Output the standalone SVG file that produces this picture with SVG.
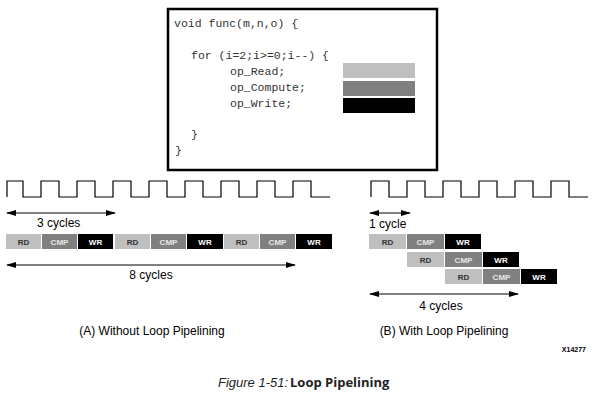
<svg xmlns="http://www.w3.org/2000/svg" width="600" height="401" viewBox="0 0 600 401">
<style>
.code{font-family:"Liberation Mono",monospace;font-size:11.5px;fill:#333}
.wave{fill:none;stroke:#000;stroke-width:1.2}
.lbl{font-family:"Liberation Sans",Arial,sans-serif;font-size:12px;fill:#000}
.bt{font-family:"Liberation Sans",Arial,sans-serif;font-size:8px;font-weight:bold;text-anchor:middle}
.rd{fill:#bfbfbf}.cmp{fill:#808080}.wr{fill:#000}
.trd{fill:#333}.tcmp{fill:#e8e8e8}.twr{fill:#fff}
.arr{stroke:#000;stroke-width:1;marker-start:url(#a);marker-end:url(#a)}
</style>
<defs>
<marker id="a" viewBox="0 0 10 6" refX="9" refY="3" markerWidth="10" markerHeight="6" orient="auto-start-reverse" markerUnits="userSpaceOnUse"><path d="M0,0L10,3L0,6z" fill="#000"/></marker>
</defs>
<rect width="600" height="401" fill="#fff"/>
<g id="code">
<rect x="168" y="9" width="269" height="161" fill="#fff" stroke="#000" stroke-width="2.5"/>
<text class="code" x="174" y="27">void func(m,n,o) {</text>
<text class="code" x="191" y="59">for (i=2;i&gt;=0;i--) {</text>
<text class="code" x="230" y="75">op_Read;</text>
<text class="code" x="230" y="91">op_Compute;</text>
<text class="code" x="230" y="107">op_Write;</text>
<text class="code" x="191" y="138">}</text>
<text class="code" x="175" y="154">}</text>
<rect class="rd" x="343" y="63" width="72" height="15"/>
<rect class="cmp" x="343" y="81" width="72" height="15"/>
<rect class="wr" x="343" y="98" width="72" height="15"/>
</g>
<g id="waveA">
<path class="wave" d="M7,197V181H23V197H41V181H59V197H77V181H95V197H113V181H131V197H149V181H167V197H185V181H203V197H221V181H239V197H257V181H275V197H293V181H311V197H330"/>
</g>
<g id="waveB">
<path class="wave" d="M371,197V181H389V197H407V181H425V197H443V181H461V197H479V181H497V197H515V181H533V197H551V181H569V197H588"/>
</g>
<g id="connectors">
<line class="arr" x1="7" y1="213" x2="115" y2="213"/>
<line class="arr" x1="7" y1="265" x2="295" y2="265"/>
<line class="arr" x1="370" y1="213" x2="410" y2="213"/>
<line class="arr" x1="370" y1="294" x2="518" y2="294"/>
</g>
<g id="barsA">
<rect class="rd" x="6" y="234" width="35" height="15"/><text class="bt trd" x="23.5" y="245">RD</text>
<rect class="cmp" x="42" y="234" width="35" height="15"/><text class="bt tcmp" x="59.5" y="245">CMP</text>
<rect class="wr" x="78" y="234" width="35" height="15"/><text class="bt twr" x="95.5" y="245">WR</text>
<rect class="rd" x="115" y="234" width="35" height="15"/><text class="bt trd" x="132.5" y="245">RD</text>
<rect class="cmp" x="151" y="234" width="35" height="15"/><text class="bt tcmp" x="168.5" y="245">CMP</text>
<rect class="wr" x="187" y="234" width="36" height="15"/><text class="bt twr" x="205" y="245">WR</text>
<rect class="rd" x="224" y="234" width="35" height="15"/><text class="bt trd" x="241.5" y="245">RD</text>
<rect class="cmp" x="260" y="234" width="35" height="15"/><text class="bt tcmp" x="277.5" y="245">CMP</text>
<rect class="wr" x="296" y="234" width="36" height="15"/><text class="bt twr" x="314" y="245">WR</text>
</g>
<g id="barsB">
<rect class="rd" x="369" y="234" width="37" height="15"/><text class="bt trd" x="387.5" y="245">RD</text>
<rect class="cmp" x="407" y="234" width="37" height="15"/><text class="bt tcmp" x="425.5" y="245">CMP</text>
<rect class="wr" x="445" y="234" width="36" height="15"/><text class="bt twr" x="463" y="245">WR</text>
<rect class="rd" x="407" y="252" width="37" height="15"/><text class="bt trd" x="425.5" y="263">RD</text>
<rect class="cmp" x="445" y="252" width="37" height="15"/><text class="bt tcmp" x="463.5" y="263">CMP</text>
<rect class="wr" x="483" y="252" width="36" height="15"/><text class="bt twr" x="501" y="263">WR</text>
<rect class="rd" x="445" y="269" width="37" height="15"/><text class="bt trd" x="463.5" y="280">RD</text>
<rect class="cmp" x="483" y="269" width="37" height="15"/><text class="bt tcmp" x="501.5" y="280">CMP</text>
<rect class="wr" x="521" y="269" width="36" height="15"/><text class="bt twr" x="539" y="280">WR</text>
</g>
<g id="labels">
<text class="lbl" x="37" y="227">3 cycles</text>
<text class="lbl" x="151" y="279" text-anchor="middle">8 cycles</text>
<text class="lbl" x="369" y="228">1 cycle</text>
<text class="lbl" x="441" y="310" text-anchor="middle">4 cycles</text>
<text class="lbl" x="152" y="335" text-anchor="middle">(A) Without Loop Pipelining</text>
<text class="lbl" x="444" y="335" text-anchor="middle">(B) With Loop Pipelining</text>
<text x="586" y="352" text-anchor="end" font-family="Liberation Sans,Arial,sans-serif" font-size="7" font-weight="bold">X14277</text>
<text x="218" y="387" font-family="Liberation Sans,Arial,sans-serif" font-size="13" font-style="italic" fill="#222">Figure 1-51:</text>
<text x="290" y="387" font-family="Open Sans,Liberation Sans,sans-serif" font-size="13" font-weight="bold" fill="#222">Loop Pipelining</text>
</g>
</svg>
